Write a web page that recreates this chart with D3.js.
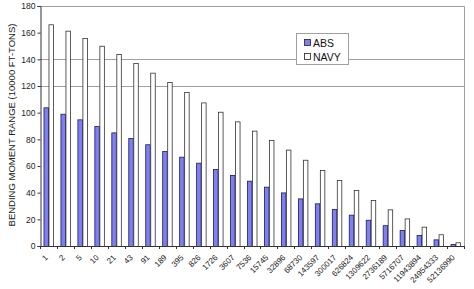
<!DOCTYPE html>
<html>
<head>
<meta charset="utf-8">
<script src="https://cdnjs.cloudflare.com/ajax/libs/d3/7.8.5/d3.min.js"></script>
<style>
  body { margin: 0; background: #fff; }
  text { font-family: "Liberation Sans", Arial, sans-serif; }
</style>
</head>
<body>
<div id="chart"></div>
<script>
var categories = ['1', '2', '5', '10', '21', '43', '91', '189', '395', '826', '1726', '3607', '7536',
  '15745', '32896', '68730', '143597', '300017', '626824', '1309622', '2736189', '5716707',
  '11943894', '24954333', '52136990'];
var absValues = [104, 99.2, 95, 90, 85.2, 81, 76.3, 71.2, 67, 62.5, 57.7, 53.2, 49, 44.5, 40.2,
  35.7, 32, 27.7, 23.5, 19.7, 15.6, 12, 8.2, 5, 1.5];
var navyValues = [166.3, 161.5, 156, 150.2, 144, 137.3, 130, 123, 115.5, 107.7, 100.7, 93.5, 86.5,
  79.5, 72.3, 64.7, 57, 49.5, 42, 34.5, 27.5, 20.7, 14.5, 8.8, 2.8];
var yTicks = [0, 20, 40, 60, 80, 100, 120, 140, 160, 180];
var gridTicks = [120, 140];
var seriesNames = ['ABS', 'NAVY'];
var seriesColors = ['#7f7ff2', '#ffffff'];

var width = 474;
var height = 289;
// plot area edges (window.top is read-only, so no plain "top")
var plotLeft = 40, plotRight = 464, plotTop = 6, plotBottom = 246;

var svg = d3.select('#chart').append('svg')
      .attr('width', width)
      .attr('height', height)

// scales
var xScale = d3.scaleBand()
      .domain(categories)
      .range([plotLeft, plotRight])
      .paddingInner(0.41)
      .paddingOuter(0.205)

var inner = d3.scaleBand()
      .domain(seriesNames)
      .range([0, xScale.bandwidth()])

var yScale = d3.scaleLinear()
      .domain([0, 180])
      .range([plotBottom, plotTop])

// gridlines (only the two the original shows)
svg.append('g').selectAll('line')
      .data(gridTicks)
      .enter()
      .append('line')
            .attr('x1', plotLeft)
            .attr('x2', plotRight)
            .attr('y1', d => Math.round(yScale(d)) + 0.5)
            .attr('y2', d => Math.round(yScale(d)) + 0.5)
            .attr('stroke', '#a0a0a0')
            .attr('stroke-width', 1)

// plot border top and right
svg.append('path')
      .attr('d', 'M' + plotLeft + ',' + (plotTop + 0.5) + 'H' + (plotRight + 0.5) + 'V' + plotBottom)
      .attr('fill', 'none')
      .attr('stroke', '#a0a0a0')

// bars
var series = [absValues, navyValues];
series.forEach(function (values, s) {
      svg.append('g').selectAll('rect')
            .data(values)
            .enter()
            .append('rect')
                  .attr('x', (d, i) => xScale(categories[i]) + inner(seriesNames[s]) + 0.5)
                  .attr('y', d => yScale(d) + 0.5)
                  .attr('width', inner.bandwidth() - 0.5)
                  .attr('height', d => plotBottom - yScale(d))
                  .attr('fill', seriesColors[s])
                  .attr('stroke', s == 0 ? '#1a1a60' : '#333')
                  .attr('stroke-width', 0.8)
})

// y axis
var yAxis = d3.axisLeft(yScale)
      .tickValues(yTicks)
      .tickSize(3)
      .tickPadding(2)

var yg = svg.append('g')
      .attr('transform', 'translate(' + (plotLeft + 0.5) + ',0)')
      .call(yAxis)
yg.select('.domain').attr('stroke', '#333')
yg.selectAll('.tick line').attr('stroke', '#333')
yg.selectAll('text')
      .style('font-size', '8.5px')
      .style('font-family', '"Liberation Sans", Arial, sans-serif')
      .attr('fill', '#222')

// x axis: ticks between categories, labels rotated
var step = xScale.step();
var boundaries = d3.range(categories.length + 1).map(i => plotLeft + i * step);

var xg = svg.append('g')
xg.append('line')
      .attr('x1', plotLeft)
      .attr('x2', plotRight)
      .attr('y1', plotBottom + 0.5)
      .attr('y2', plotBottom + 0.5)
      .attr('stroke', '#333')
xg.selectAll('.xtick')
      .data(boundaries)
      .enter()
      .append('line')
            .attr('x1', d => Math.round(d) + 0.5)
            .attr('x2', d => Math.round(d) + 0.5)
            .attr('y1', plotBottom)
            .attr('y2', plotBottom + 3)
            .attr('stroke', '#333')
xg.selectAll('text')
      .data(categories)
      .enter()
      .append('text')
            .attr('transform', d => 'translate(' + (xScale(d) + xScale.bandwidth() / 2) + ',' + (plotBottom + 12) + ') rotate(-45)')
            .style('text-anchor', 'end')
            .style('font-size', '8px')
            .attr('fill', '#222')
            .text(d => d)

// y axis title
svg.append('text')
      .attr('transform', 'rotate(-90)')
      .attr('x', -(plotTop + plotBottom) / 2 + 1)
      .attr('y', 15)
      .style('text-anchor', 'middle')
      .style('font-size', '9.5px')
      .attr('fill', '#222')
      .text('BENDING MOMENT RANGE (10000 FT-TONS)')

// legend
var legend = svg.append('g')
      .attr('transform', 'translate(296,33)')
legend.append('rect')
      .attr('x', 0.5)
      .attr('y', 0.5)
      .attr('width', 52)
      .attr('height', 31)
      .attr('fill', '#fff')
      .attr('stroke', '#a0a0a0')
seriesNames.forEach(function (name, i) {
      legend.append('rect')
            .attr('x', 8.5)
            .attr('y', 6.5 + i * 14)
            .attr('width', 6)
            .attr('height', 6)
            .attr('fill', seriesColors[i])
            .attr('stroke', '#222')
            .attr('stroke-width', 0.8)
      legend.append('text')
            .attr('x', 17)
            .attr('y', 13.5 + i * 14)
            .style('font-size', '10.5px')
            .attr('fill', '#111')
            .text(name)
})
</script>
</body>
</html>
